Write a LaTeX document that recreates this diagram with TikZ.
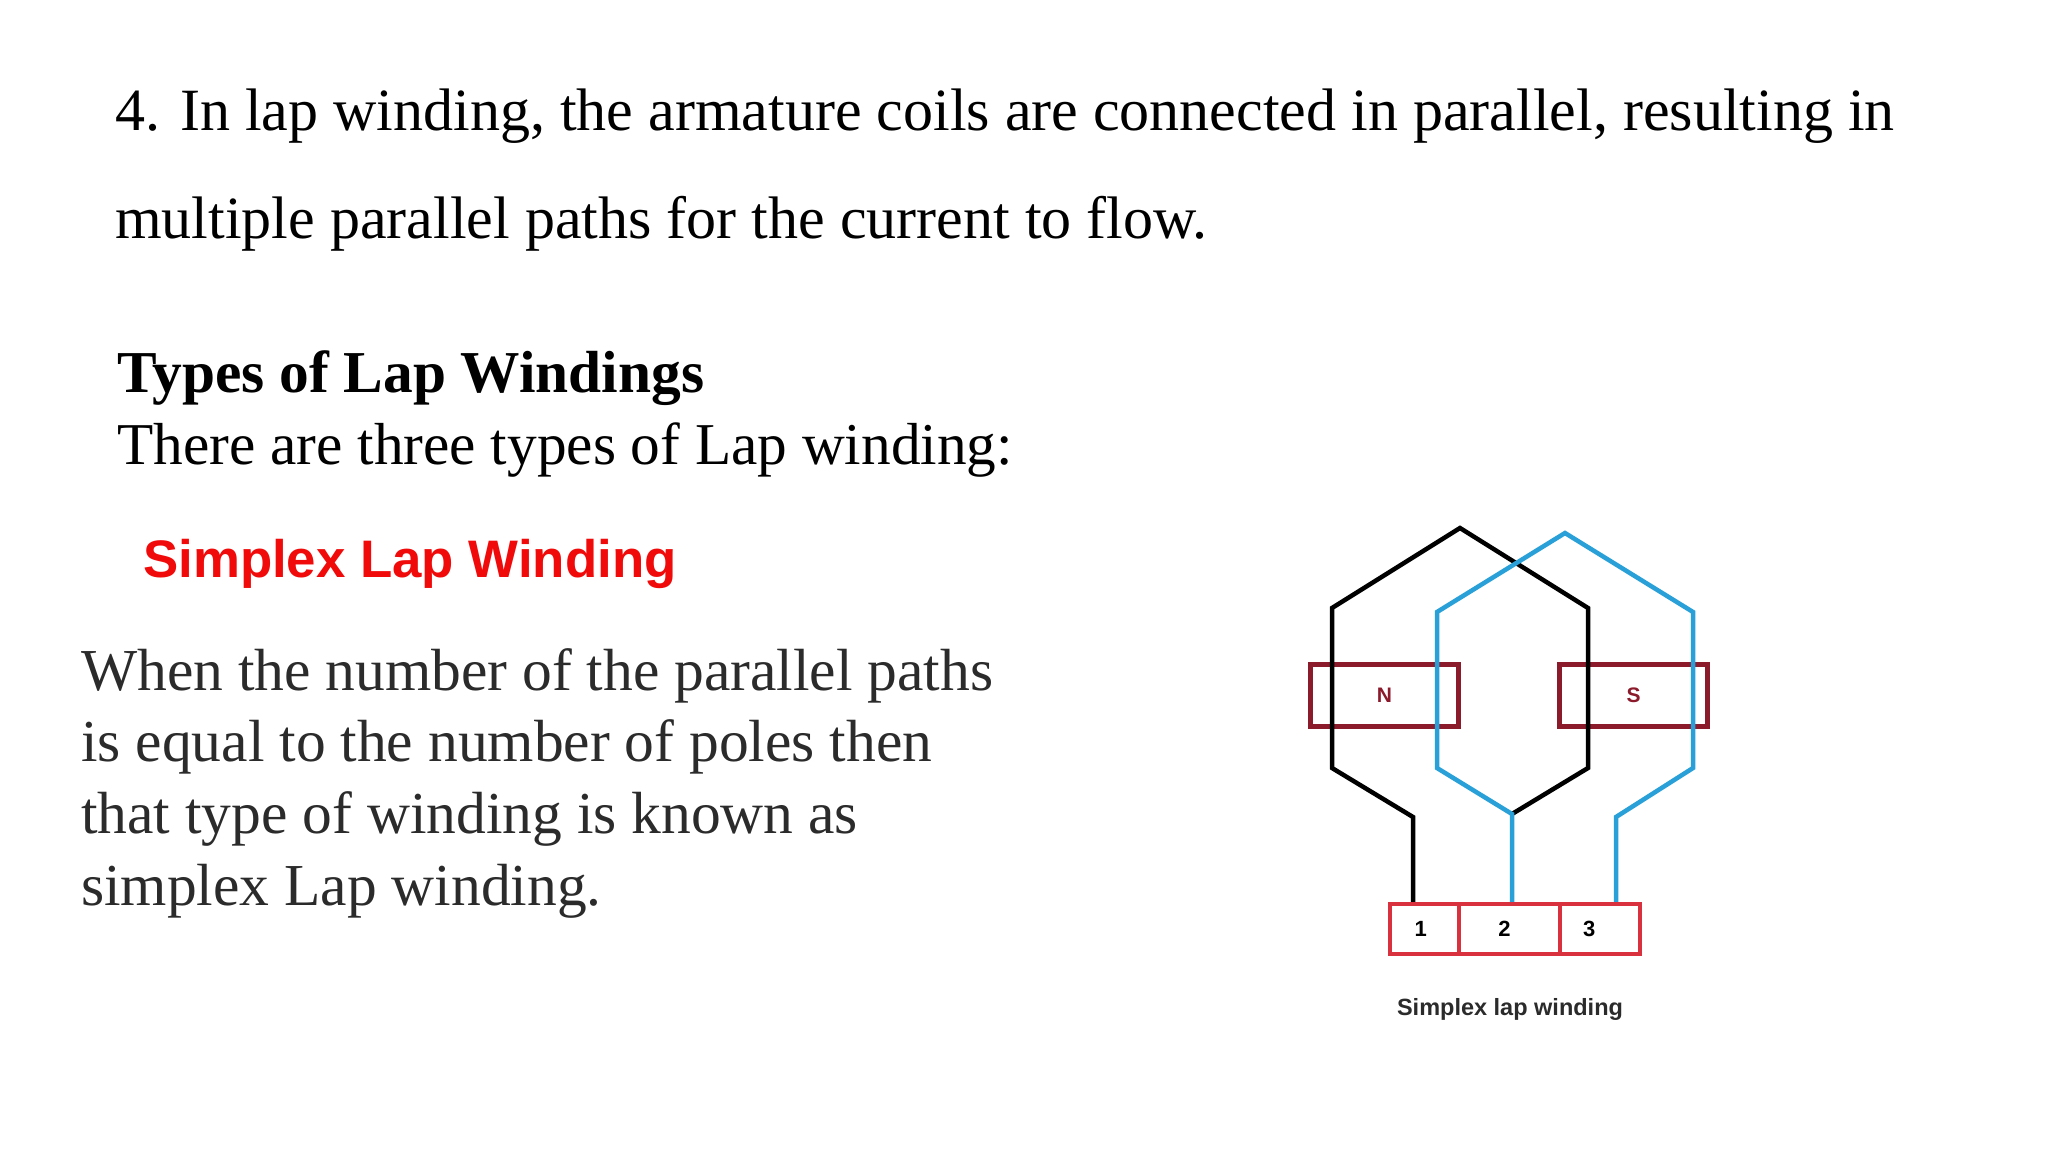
\documentclass[tikz,border=0pt]{standalone}
\usepackage{fontspec}
\setmainfont{Liberation Serif}
\setsansfont{Liberation Sans}
\definecolor{magred}{HTML}{8B1A2B}
\definecolor{comred}{HTML}{D9313D}
\definecolor{wireblue}{HTML}{2AA0D8}
\definecolor{txtgrey}{HTML}{2B2B2B}
\tikzset{
  txt/.style={anchor=base west,inner sep=0pt,font=\fontsize{60}{70}\selectfont},
  magnet/.style={draw=magred,line width=5pt,minimum width=148pt,minimum height=62pt,inner sep=0pt,text=magred,font=\sffamily\bfseries\fontsize{21}{22}\selectfont},
  seg/.style={draw=comred,line width=4.5pt,minimum height=50pt,inner sep=0pt,font=\sffamily\bfseries\fontsize{22}{22}\selectfont},
  wire/.style={line width=4.5pt,line join=miter}
}
\begin{document}
\begin{tikzpicture}[x=1pt,y=-1pt]
\useasboundingbox (0,0) rectangle (2048,1152);
\node[txt] (l1) at (115,130) {4. In lap winding, the armature coils are connected in parallel, resulting in};
\node[txt] (l2) at (115,238) {multiple parallel paths for the current to flow.};
\node[txt,font=\bfseries\fontsize{59.4}{70}\selectfont] (h) at (117,392) {Types of Lap Windings};
\node[txt,font=\fontsize{59.3}{70}\selectfont] (t) at (117,464) {There are three types of Lap winding:};
\node[txt,font=\sffamily\bfseries\fontsize{52.8}{60}\selectfont,text={rgb,255:red,240;green,10;blue,10}] (sl) at (143,577) {Simplex Lap Winding};
\foreach \s/\y in {When the number of the parallel paths/690,is equal to the number of poles then/761,that type of winding is known as/833,simplex Lap winding./905}
  \node[txt,font=\fontsize{59.5}{70}\selectfont,text=txtgrey] at (81,\y) {\s};
% diagram
\node[magnet] (N) at (1384.5,695) {N};
\node[magnet] (S) at (1633.5,695) {S};
\node[seg,minimum width=69pt,text width=60pt,align=left] (c1) at (1424.5,929) {\hspace*{20pt}1};
\node[seg,minimum width=101pt] (c2) at (1509.5,929) {\hspace*{-10pt}2};
\node[seg,minimum width=80pt,text width=70pt,align=left] (c3) at (1600,929) {\hspace*{18pt}3};
\coordinate (b1) at (1413,817);
\coordinate (b2) at (1332,768);
\coordinate (b3) at (1332,608);
\coordinate (b4) at (1460,528);
\coordinate (b5) at (1588,608);
\coordinate (b6) at (1588,768);
\coordinate (b7) at (1512,814);
\coordinate (u1) at (1437,768);
\coordinate (u2) at (1437,612);
\coordinate (u3) at (1565,533);
\coordinate (u4) at (1693,612);
\coordinate (u5) at (1693,768);
\coordinate (u6) at (1616,817);
\draw[wire,black] (c1.north -| b1) -- (b1) -- (b2) -- (b3) -- (b4) -- (b5) -- (b6) -- (b7);
\draw[wire,wireblue] (c2.north -| b7) -- (b7) -- (u1) -- (u2) -- (u3) -- (u4) -- (u5) -- (u6) -- (c3.north -| u6);
\node[font=\sffamily\bfseries\fontsize{23.5}{24}\selectfont,text=txtgrey] (cap) at (1510,1009) {Simplex lap winding};
\end{tikzpicture}
\end{document}
